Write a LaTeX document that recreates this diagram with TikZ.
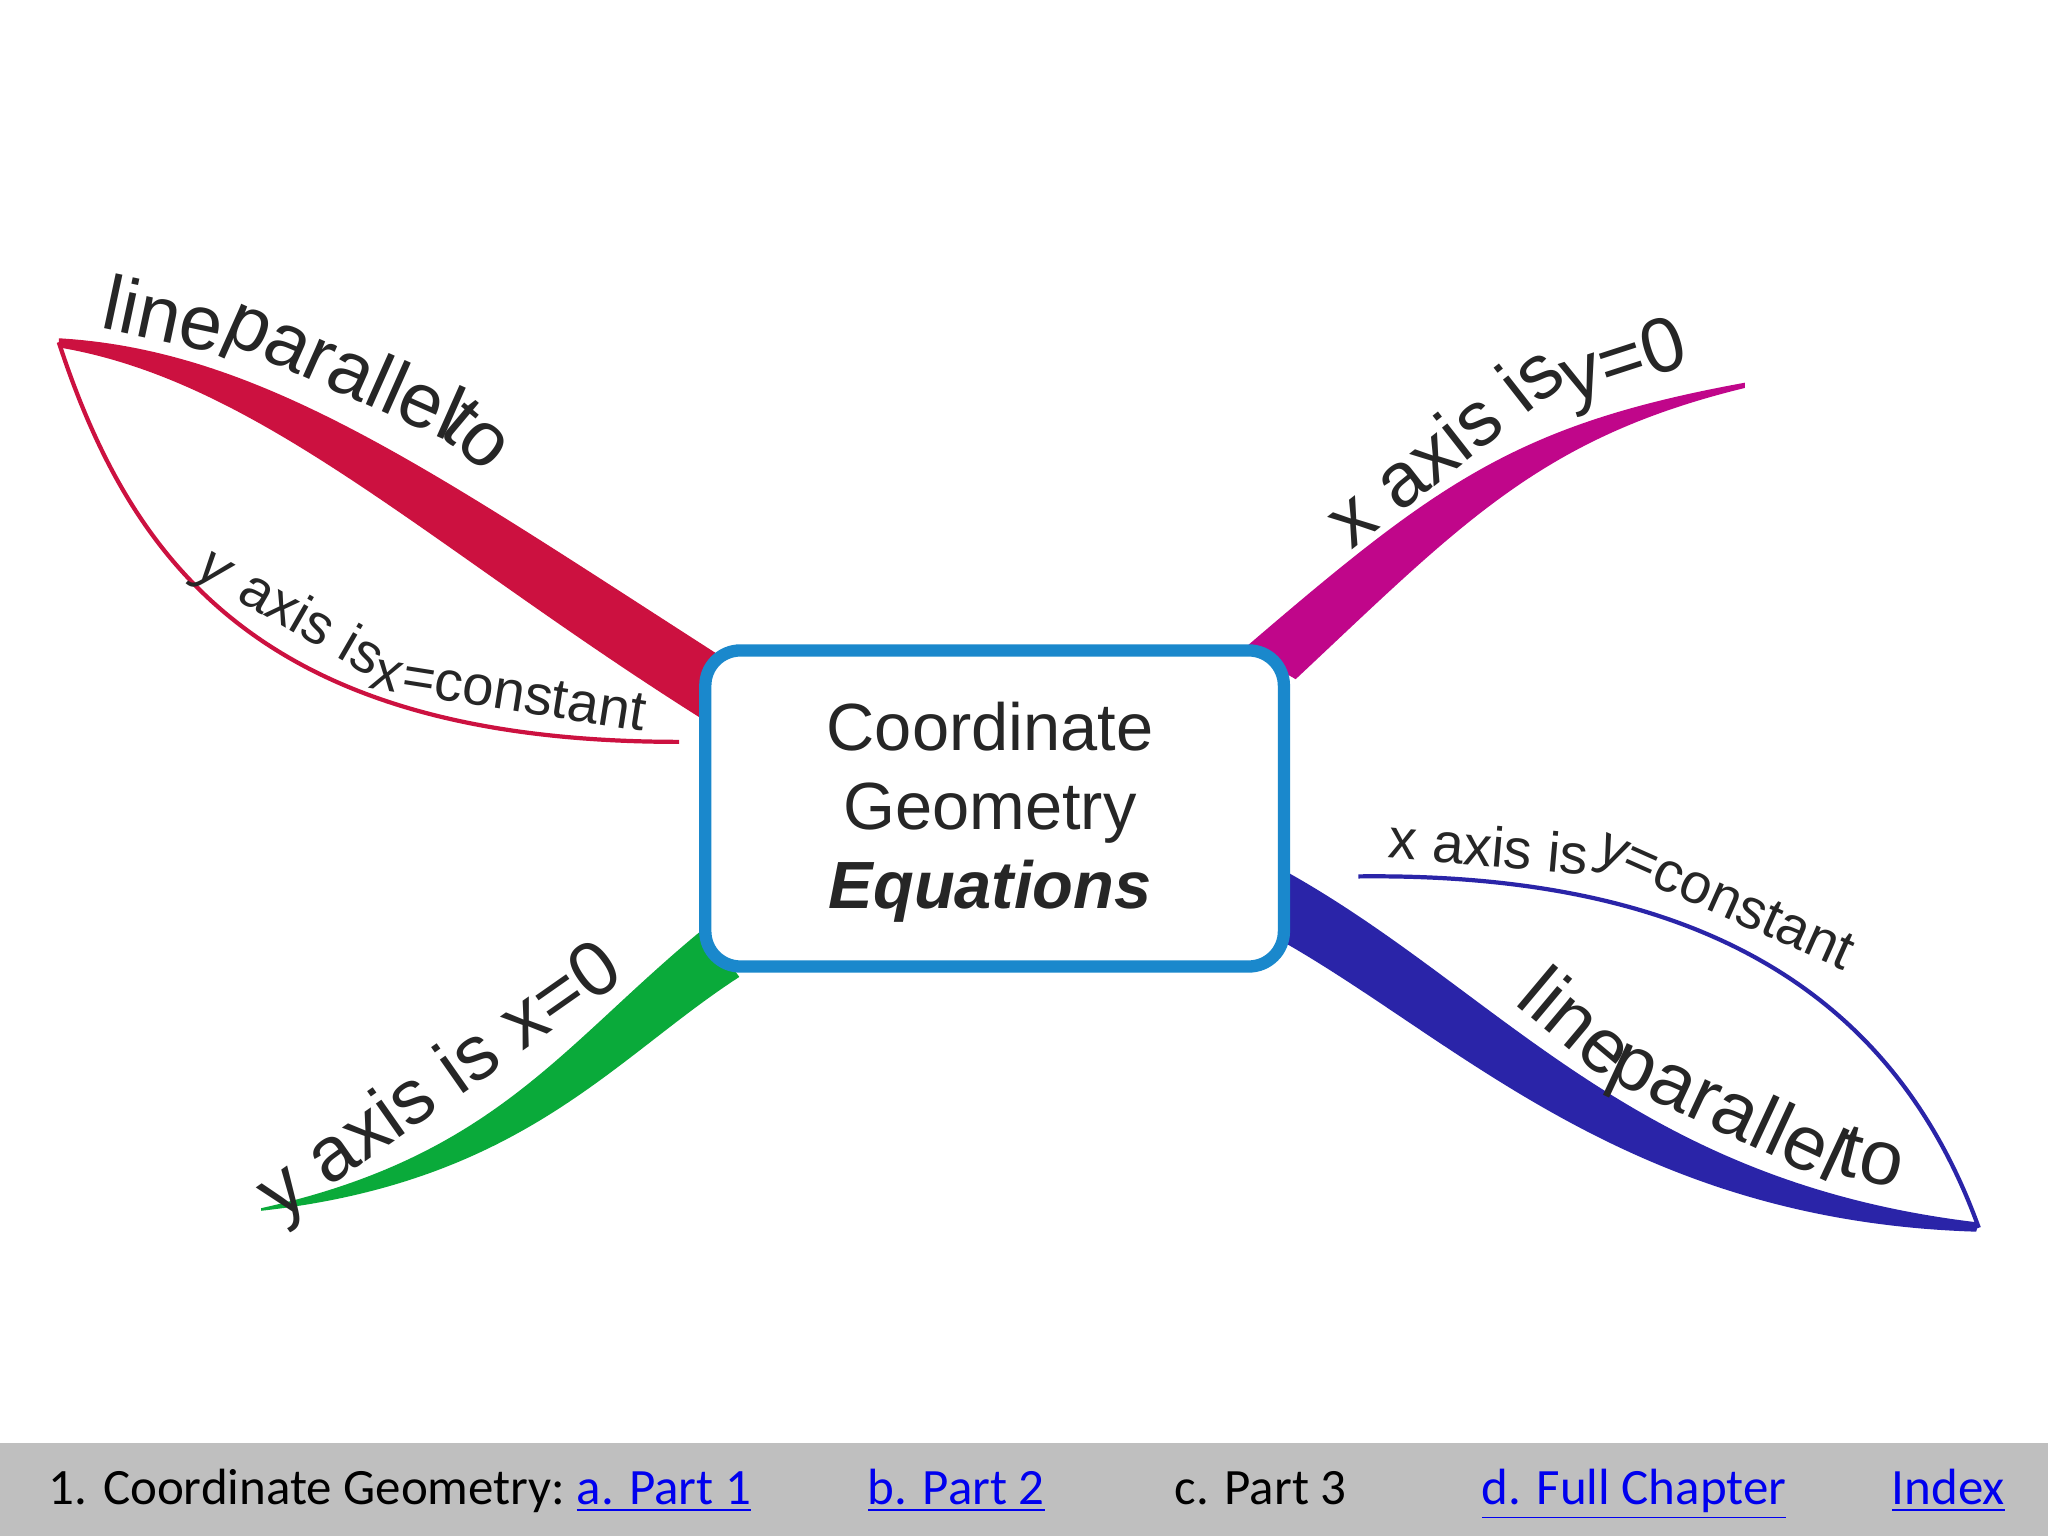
\documentclass[tikz,border=0pt]{standalone}
\usepackage{fontspec}
\setsansfont{Liberation Sans}
\newfontfamily\calib{Carlito}
\definecolor{cred}{HTML}{CC1140}
\definecolor{cmag}{HTML}{C0068A}
\definecolor{cgrn}{HTML}{0AAA3A}
\definecolor{cblu}{HTML}{2A24A8}
\definecolor{cbox}{HTML}{1A88CC}
\definecolor{clink}{HTML}{0000EE}
\tikzset{
  bigt/.style={font=\sffamily\fontsize{22}{22}\selectfont,text=black!85,inner sep=0pt},
  smlt/.style={font=\sffamily\fontsize{16}{16}\selectfont,text=black!85,inner sep=0pt},
  linkt/.style={font=\calib\fontsize{14.5}{16}\selectfont,text=clink,anchor=base west},
  bart/.style={font=\calib\fontsize{14.5}{16}\selectfont,anchor=base west}
}
\begin{document}
\begin{tikzpicture}[x=0.013061cm,y=-0.013061cm]
\useasboundingbox (0,0) rectangle (1568,1176);
\fill[white] (0,0) rectangle (1568,1176);
% red
\fill[cred] (45,259) .. controls (200,268) and (330,360) .. (548,500) -- (540,552) .. controls (330,420) and (200,292) .. (45,266) -- cycle;
\draw[cred,line width=1.2pt] (45,262) .. controls (100,430) and (200,568) .. (520,568);
% magenta
\fill[cmag] (952,497) .. controls (1100,370) and (1160,325) .. (1336,293) -- (1336,297) .. controls (1180,335) and (1120,400) .. (992,520) -- cycle;
% green
\fill[cgrn] (540,710) .. controls (430,800) and (380,885) .. (200,925) -- (200,927) .. controls (400,905) and (470,810) .. (566,748) -- cycle;
% blue
\fill[cblu] (986,668) .. controls (1150,760) and (1250,905) .. (1515,936) -- (1513,943) .. controls (1250,935) and (1120,800) .. (984,722) -- cycle;
\draw[cblu,line width=1.2pt] (1040,671) .. controls (1300,668) and (1450,760) .. (1515,940);
% box
\draw[cbox,line width=3.5pt,rounded corners=10pt,fill=white] (540,498) rectangle (983,740);
\node[align=center,font=\sffamily\fontsize{19}{22.5}\selectfont,text=black!85] (title) at (758,622) {Coordinate\\Geometry\\\textbf{\textit{Equations}}};
% texts
\node[bigt,rotate=-12] (r1) at (126,240) {line};
\node[bigt,rotate=-24] (r2) at (262,285) {parallel};
\node[bigt,rotate=-40] (r3) at (366,333) {to};
\node[smlt,rotate=-30] (r4) at (222,470) {\textit{y} axis is};
\node[smlt,rotate=-9] (r5) at (390,530) {\textit{x}=constant};
\node[bigt,rotate=38] (m1) at (1105,340) {x axis is};
\node[bigt,rotate=18] (m2) at (1244,280) {y=0};
\node[bigt,rotate=35] (g1) at (338,830) {y axis is x=0};
\node[smlt,rotate=-5] (u1) at (1140,648) {x axis is};
\node[smlt,rotate=-24] (u2) at (1320,692) {y=constant};
\node[bigt,rotate=-40] (u3) at (1208,782) {line};
\node[bigt,rotate=-25] (u4) at (1322,852) {parallel};
\node[bigt,rotate=-14] (u5) at (1433,886) {to};
% bottom bar
\fill[black!25] (0,1105) rectangle (1568,1176);
\node[bart] (b0) at (28,1152) {1. Coordinate Geometry:};
\node[linkt] (b1) at (432,1152) {\underline{a. Part 1}};
\node[linkt] (b2) at (655,1152) {\underline{b. Part 2}};
\node[bart] (b3) at (890,1152) {c. Part 3};
\node[linkt] (b4) at (1125,1152) {\underline{d. Full Chapter}};
\node[linkt] (b5) at (1439,1152) {\underline{Index}};
\end{tikzpicture}
\end{document}
